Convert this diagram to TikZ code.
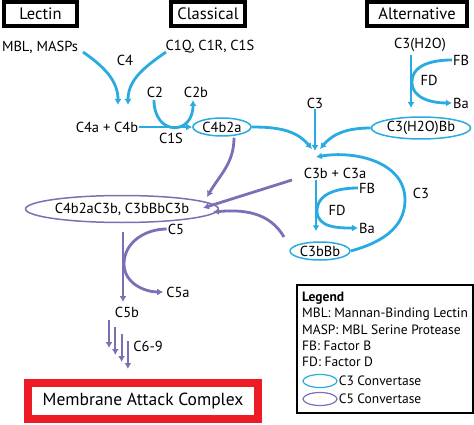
\documentclass[tikz,border=0pt]{standalone}
\usepackage{fontspec}
\setmainfont{PT Sans}
\usetikzlibrary{positioning,calc,shapes,arrows.meta}

\definecolor{cblue}{RGB}{41,171,226}
\definecolor{cpurple}{RGB}{125,110,182}
\definecolor{cred}{RGB}{237,28,36}

\tikzset{
  lbl/.style={font=\fontsize{14.5}{16}\selectfont, inner sep=1pt},
  lgtext/.style={font=\fontsize{13.5}{15}\selectfont, inner sep=0pt, anchor=west},
  pathbox/.style={draw, line width=4pt, font=\fontsize{16.5}{18}\selectfont, minimum height=24pt, inner sep=0pt},
  cthree/.style={ellipse, draw=cblue, line width=1.5pt, inner sep=0pt, lbl},
  cfive/.style={ellipse, draw=cpurple, line width=1.5pt, inner sep=0pt, lbl},
  bluarr/.style={draw=cblue, line width=2.8pt, -{Latex[length=6pt,width=7pt]}},
  purarr/.style={draw=cpurple, line width=2.8pt, -{Latex[length=6pt,width=7pt]}},
}

\begin{document}
\begin{tikzpicture}[x=1pt,y=1pt]
\useasboundingbox (0,0) rectangle (474,424);

% pathway titles
\node[pathbox, minimum width=73pt] (lectin) at (40.5,410) {Lectin};
\node[pathbox, minimum width=74pt] (classical) at (208,410) {Classical};
\node[pathbox, minimum width=100pt] (alternative) at (417,410) {Alternative};

% lectin + classical
\node[lbl] (mbl) at (40,377) {MBL, MASPs};
\node[lbl] (c1q) at (210,377) {C1Q, C1R, C1S};
\node[lbl] (c4) at (125,364) {C4};
\node[lbl] (c4ab) at (107,297) {C4a + C4b};
\node[lbl] (c2) at (155,332) {C2};
\node[lbl] (c2b) at (196,332) {C2b};
\node[lbl] (c1s) at (171,286) {C1S};
\node[cthree, minimum width=55pt, minimum height=18pt] (c4b2a) at (222,297) {C4b2a};

% alternative
\node[lbl] (c3h2o) at (420,379) {C3(H2O)};
\node[lbl] (fbtop) at (461,364) {FB};
\node[lbl] (fdtop) at (429,344) {FD};
\node[lbl] (batop) at (461,321) {Ba};
\node[cthree, minimum width=84pt, minimum height=19pt] (c3h2obb) at (421,296) {C3(H2O)Bb};

% C3 step
\node[lbl] (c3top) at (315,321) {C3};
\node[lbl] (c3bc3a) at (335,251) {C3b + C3a};
\node[lbl] (fbmid) at (367,236) {FB};
\node[lbl] (fdmid) at (337,214) {FD};
\node[lbl] (bamid) at (367,196) {Ba};
\node[lbl] (c3loop) at (421,231) {C3};
\node[cthree, minimum width=55pt, minimum height=18pt] (c3bbb) at (320,173) {C3bBb};

% C5 step
\node[cfive, minimum width=152pt, minimum height=27pt] (c5conv) at (122,215) {C4b2aC3b, C3bBbC3b};
\node[lbl] (c5) at (176,195) {C5};
\node[lbl] (c5a) at (178,132) {C5a};
\node[lbl] (c5b) at (127,112) {C5b};
\node[lbl] (c69) at (148,78) {C6-9};
\node[draw=cred, line width=8pt, minimum width=230pt, minimum height=36pt, inner sep=0pt,
      font=\fontsize{17.5}{20}\selectfont] (mac) at (143,23) {Membrane Attack Complex};

% legend
\node[draw, line width=1.2pt, minimum width=176pt, minimum height=128pt, inner sep=0pt] (lgbox) at (385,75) {};
\node[lgtext, font=\fontsize{13.5}{15}\selectfont\bfseries] (lgtitle) at (302,126) {Legend};
\node[lgtext] (lgmbl) at (302,110) {MBL: Mannan-Binding Lectin};
\node[lgtext] (lgmasp) at (302,94) {MASP: MBL Serine Protease};
\node[lgtext] (lgfb) at (302,78) {FB: Factor B};
\node[lgtext] (lgfd) at (302,62) {FD: Factor D};
\node[cthree, line width=1.2pt, minimum width=34pt, minimum height=13pt] (lgc3) at (320,43) {};
\node[lgtext] (lgc3txt) [right=1pt of lgc3] {C3 Convertase};
\node[cfive, line width=1.2pt, minimum width=34pt, minimum height=13pt] (lgc5) at (320,25) {};
\node[lgtext] (lgc5txt) [right=1pt of lgc5] {C5 Convertase};

% blue arrows
\draw[bluarr] ($(mbl)+(43,-5)$) to[out=-35,in=90] ($(c4ab)+(11,22)$);
\draw[bluarr] ($(c1q)+(-44,-5)$) to[out=-145,in=90] ($(c4ab)+(21,22)$);
\draw[bluarr] (c4ab.east) -- (c4b2a.west);
\draw[bluarr] ($(c2)+(-1,-8)$) .. controls +(0,-36) and +(0,-36) .. ($(c2b)+(-3,-8)$);
\draw[bluarr] (c4b2a.east) to[out=0,in=130] ($(c3bc3a)+(-23,24)$);
\draw[bluarr] (c3top.south) -- ($(c3bc3a)+(-20,22)$);
\draw[bluarr] (c3h2obb.west) to[out=180,in=50] ($(c3bc3a)+(-15,24)$);

\draw[bluarr] ($(c3h2o)+(-9,-10)$) -- ($(c3h2o)+(-9,-63)$);
\coordinate (fdjoint) at (412,342);
\draw[bluarr] (fbtop.west) to[out=180,in=90] (fdjoint) to[out=-90,in=180] (batop.west);

\coordinate (c3arc) at (405,224);
\draw[bluarr] (c3bbb.east) to[out=15,in=-90] (c3arc) to[out=90,in=10] ($(c3bc3a)+(-19,16)$);
\draw[bluarr] ($(c3bc3a)+(-19,-7)$) -- ($(c3bbb.north)+(-4,10)$);
\coordinate (fdjoint2) at (317,213);
\draw[bluarr] (fbmid.west) to[out=180,in=90] (fdjoint2) to[out=-90,in=180] (bamid.west);

% purple arrows
\draw[purarr] ($(c4b2a.south)+(12,-1)$) to[out=-90,in=60] ($(c5conv)+(85,12)$);
\draw[purarr] ($(c3bc3a)+(-43,-7)$) -- ($(c5conv)+(81,1)$);
\draw[purarr] ($(c3bbb)+(-36,14)$) to[out=120,in=5] ($(c5conv)+(91,-3)$);

\draw[purarr] ($(c5conv.south)+(1,-9)$) -- ($(c5b)+(-4,10)$);
\coordinate (c5joint) at (124,160);
\draw[purarr] (c5.west) to[out=180,in=90] (c5joint) to[out=-90,in=180] ($(c5a.west)+(-2,0)$);

\foreach \i in {0,...,3}
  \draw[purarr, line width=2.2pt] ($(c5b)+(-18+6.3*\i,-8-7*\i)$) -- ++(0,-28);

\end{tikzpicture}
\end{document}
